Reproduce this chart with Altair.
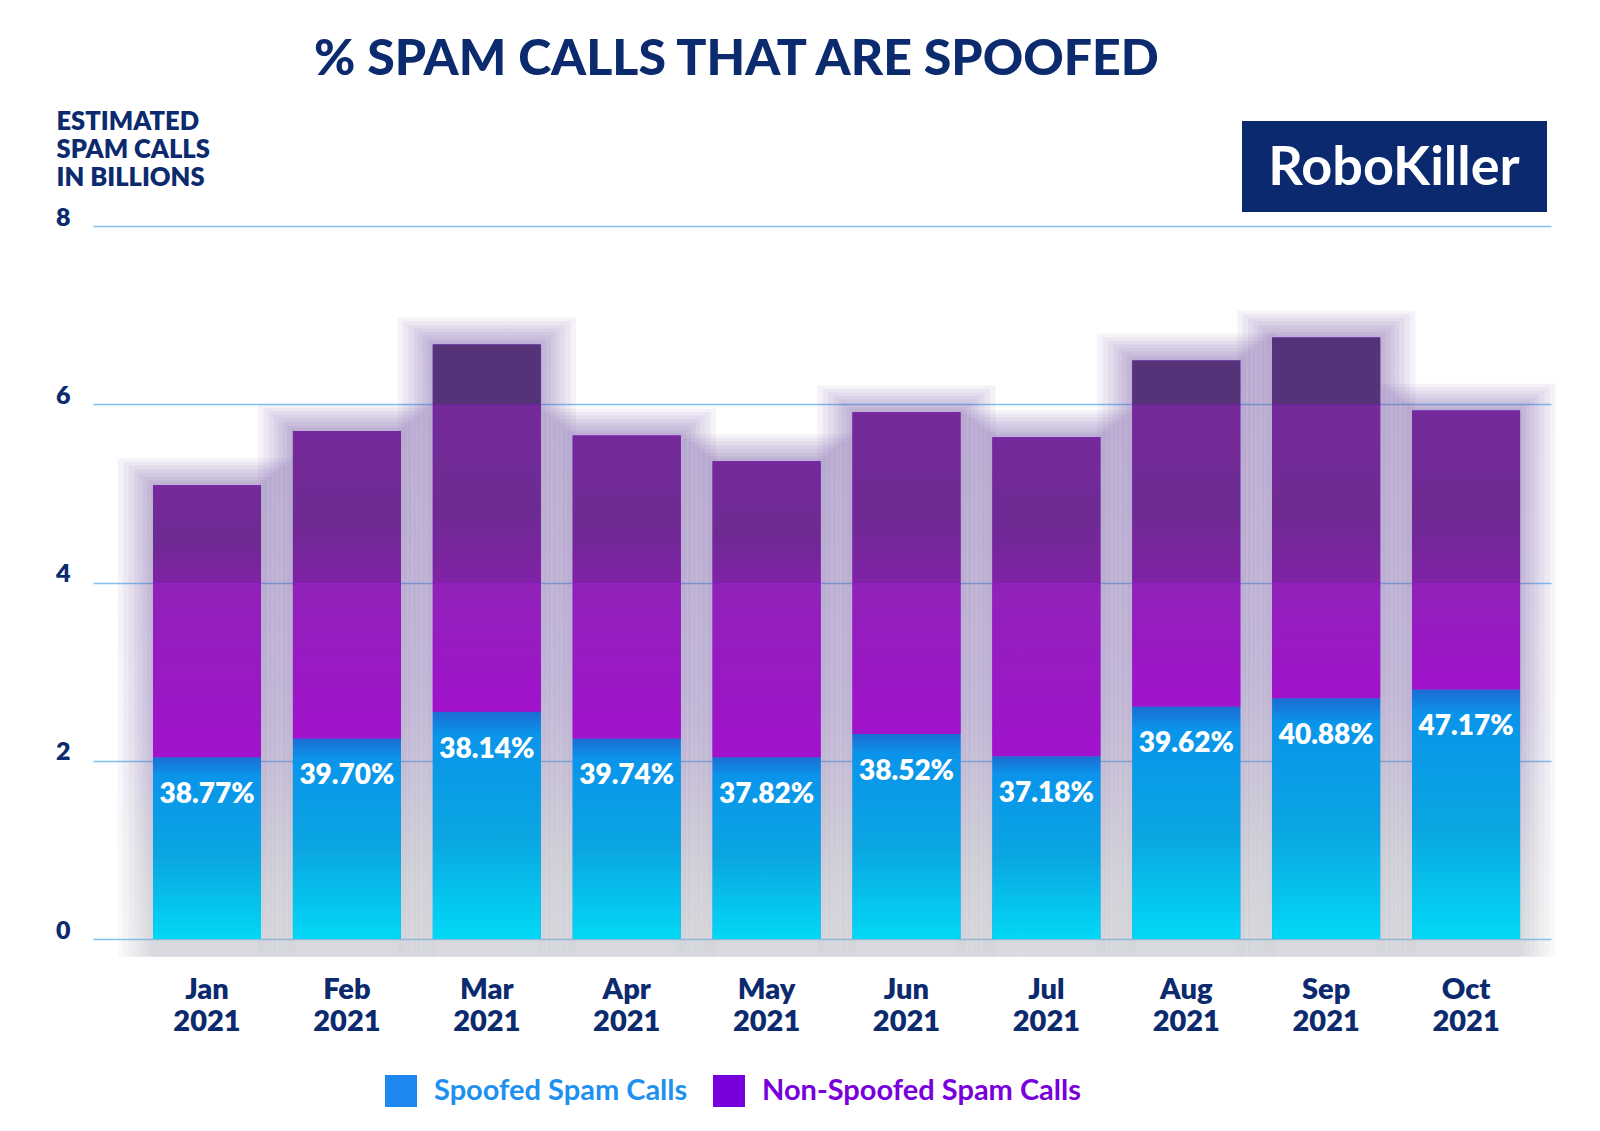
import altair as alt
import pandas as pd

# ---- data ----
months = ["Jan 2021", "Feb 2021", "Mar 2021", "Apr 2021", "May 2021",
          "Jun 2021", "Jul 2021", "Aug 2021", "Sep 2021", "Oct 2021"]
spoofed = [2.04, 2.25, 2.55, 2.25, 2.04, 2.30, 2.05, 2.61, 2.70, 2.80]
non_spoofed = [3.05, 3.45, 4.12, 3.40, 3.32, 3.61, 3.58, 3.88, 4.05, 3.13]
pct_labels = ["38.77%", "39.70%", "38.14%", "39.74%", "37.82%",
              "38.52%", "37.18%", "39.62%", "40.88%", "47.17%"]
series_names = ["Spoofed Spam Calls", "Non-Spoofed Spam Calls"]
series_colors = ["#1e88f0", "#7800dc"]
y_ticks = [0, 2, 4, 6, 8]
y_title = ["ESTIMATED", "SPAM CALLS", "IN BILLIONS"]
chart_title = "% SPAM CALLS THAT ARE SPOOFED"
logo_text = ["RoboKiller"]

NAVY = "#0c2a6e"
FONT = "Lato"

wide = pd.DataFrame({"month": months, "spoofed": spoofed,
                     "non": non_spoofed, "pct": pct_labels})
wide["total"] = wide["spoofed"] + wide["non"]

rows = []
for m, s, n in zip(months, spoofed, non_spoofed):
    rows.append({"month": m, "series": series_names[0], "lo": 0.0, "hi": s})
    rows.append({"month": m, "series": series_names[1], "lo": s, "hi": s + n})
long = pd.DataFrame(rows)

xscale = alt.Scale(paddingInner=0.228, paddingOuter=0.325, align=0.66)
xaxis = alt.Axis(title=None, labelExpr="split(datum.label, ' ')", labelAngle=0,
                 labelFont=FONT, labelFontSize=29, labelFontWeight=800,
                 labelColor=NAVY, labelPadding=36, labelLineHeight=32,
                 labelBaseline="top", domain=False, ticks=False, tickSize=0,
                 grid=False)
yscale = alt.Scale(domain=[0, 8], nice=False, zero=True)
yaxis = alt.Axis(values=y_ticks, format="d", title=y_title, titleAngle=0,
                 titleAlign="left", titleBaseline="alphabetic", titleX=-37,
                 titleY=-97, titleFont=FONT, titleFontSize=25.5,
                 titleFontWeight=800, titleColor=NAVY, titleLineHeight=28,
                 labelFont=FONT, labelFontSize=25, labelFontWeight=800,
                 labelColor=NAVY, labelPadding=23, labelOffset=-9,
                 domain=False, ticks=False, tickSize=0,
                 gridColor="#7fc2f2", gridWidth=1.5, gridOpacity=1)


def X():
    return alt.X("month:N", sort=months, scale=xscale, axis=xaxis)


def Y(field):
    return alt.Y(field, scale=yscale, axis=yaxis)


def grad(stops):
    return alt.LinearGradient(
        gradient="linear", x1=0, x2=0, y1=0, y2=1,
        stops=[alt.GradientStop(color=c, offset=o) for o, c in stops])


base = alt.Chart(wide)

# soft glow / haze around bars
glow_layers = []
glow_grad = grad([(0, "#6a4a9c"), (0.55, "#7a62a6"), (0.85, "#9a9aaa"), (1, "#a8acb6")])
for k, ext in [(1.65, 0.30), (1.55, 0.26), (1.45, 0.22), (1.35, 0.18),
               (1.27, 0.14), (1.19, 0.10), (1.11, 0.06), (1.04, 0.03)]:
    glow_layers.append(
        base.transform_calculate(glo="-0.2", ghi=f"datum.total + {ext}")
        .mark_bar(width=alt.RelativeBandSize(band=k), opacity=0.07,
                  color=glow_grad)
        .encode(x=X(), y=Y("glo:Q"), y2="ghi:Q")
    )

# base bars carrying the legend colours
legend_bars = alt.Chart(long).mark_bar().encode(
    x=X(), y=Y("lo:Q"), y2="hi:Q",
    color=alt.Color(
        "series:N",
        scale=alt.Scale(domain=series_names, range=series_colors),
        legend=alt.Legend(
            title=None, orient="none", legendX=292, legendY=849,
            direction="horizontal", symbolType="square", symbolSize=1024,
            symbolStrokeWidth=0, symbolOpacity=1, labelFont=FONT,
            labelFontWeight="bold", labelFontSize=29, labelOffset=17,
            columnPadding=25, labelLimit=500,
            labelColor={"expr": "datum.value == 'Spoofed Spam Calls' ? '#1e90f0' : '#7800dc'"},
        ),
    ),
)

# gradient overlays
spoof_bar = base.mark_bar(
    color=grad([(0, "#1c6cd2"), (0.1, "#0a94ea"), (0.55, "#0aa6e2"), (1, "#02d8f6")])
).encode(x=X(), y=Y("zero:Q"), y2="spoofed:Q").transform_calculate(zero="0")

seg1 = base.transform_calculate(s1="min(datum.total, 4)").mark_bar(
    color=grad([(0, "#9022b8"), (1, "#a112cc")])
).encode(x=X(), y=Y("spoofed:Q"), y2="s1:Q")

seg2 = base.transform_filter("datum.total > 4").transform_calculate(
    a="4", b="min(datum.total, 6)").mark_bar(
    color=grad([(0, "#742a9a"), (0.6, "#6e2a92"), (1, "#8022a6")])
).encode(x=X(), y=Y("a:Q"), y2="b:Q")

seg3 = base.transform_filter("datum.total > 6").transform_calculate(
    a="6").mark_bar(color="#553378").encode(x=X(), y=Y("a:Q"), y2="total:Q")

pct_text = base.mark_text(
    baseline="middle", dy=38, font=FONT, fontWeight=800, fontSize=28,
    color="white"
).encode(x=X(), y=Y("spoofed:Q"), text="pct:N")

logo_df = pd.DataFrame({"logo": logo_text})
logo_box = alt.Chart(logo_df).mark_rect(color="#0a296e").encode(
    x=alt.value(1149), x2=alt.value(1454), y=alt.value(-105), y2=alt.value(-14))
logo_txt = alt.Chart(logo_df).mark_text(
    font=FONT, fontWeight="bold", fontSize=54, color="white",
    align="center", baseline="alphabetic"
).encode(x=alt.value(1301), y=alt.value(-41), text="logo:N")

chart = alt.layer(
    *glow_layers, legend_bars, spoof_bar, seg1, seg2, seg3, pct_text,
    logo_box, logo_txt
).properties(
    width=1458, height=713,
    title=alt.TitleParams(chart_title, anchor="start", frame="group", dx=221,
                          offset=24, font=FONT, fontSize=50,
                          fontWeight=900, color=NAVY),
    autosize=alt.AutoSizeParams(type="none"),
    padding={"left": 85, "top": 218, "right": 41, "bottom": 182},
    background="white",
).configure_view(stroke="transparent", strokeWidth=0)

chart.save("out.html", embed_options={"renderer": "svg", "actions": False})
